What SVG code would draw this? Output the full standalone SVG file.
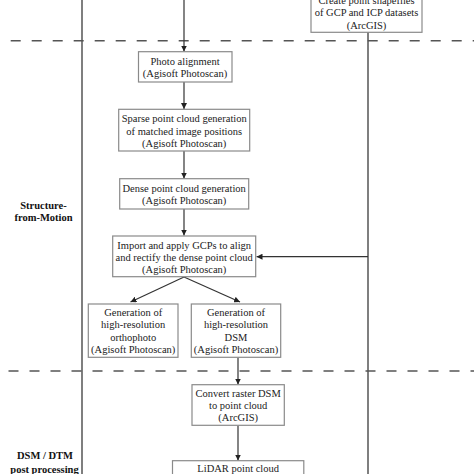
<svg xmlns="http://www.w3.org/2000/svg" width="474" height="474" viewBox="0 0 474 474">
<defs>
<marker id="ah" viewBox="0 0 10 10" refX="10" refY="5" markerWidth="6" markerHeight="6" markerUnits="userSpaceOnUse" orient="auto">
<path d="M0,0 L10,5 L0,10 z" fill="#222"/>
</marker>
<style>
.box{fill:#fff;stroke:#8a8a8a;stroke-width:1.2}
.t{font-family:"Liberation Serif","Times New Roman",serif;font-size:10.5px;fill:#222;text-anchor:middle}
.b{font-family:"Liberation Serif","Times New Roman",serif;font-size:10.5px;font-weight:bold;fill:#111;text-anchor:middle}
.ln{stroke:#555;stroke-width:1.5;fill:none}
.ar{stroke:#333;stroke-width:1.2;fill:none;marker-end:url(#ah)}
.dash{stroke:#555;stroke-width:1.5;stroke-dasharray:10 11;fill:none}
</style>
</defs>
<rect width="474" height="474" fill="#fff"/>
<g id="dividers">
<line class="dash" x1="10.7" y1="40.7" x2="474" y2="40.7"/>
<line class="dash" x1="8.5" y1="371" x2="474" y2="371"/>
</g>
<g id="connectors">
<line class="ln" x1="82" y1="0" x2="82" y2="474"/>
<line class="ln" x1="368" y1="32" x2="368" y2="474"/>
<line class="ar" x1="184" y1="0" x2="184" y2="51.5"/>
<line class="ar" x1="184" y1="82" x2="184" y2="109"/>
<line class="ar" x1="184" y1="151" x2="184" y2="178.5"/>
<line class="ar" x1="184" y1="209" x2="184" y2="235.5"/>
<line class="ar" x1="368" y1="256.7" x2="256.5" y2="256.7"/>
<line class="ar" x1="184" y1="277" x2="130.5" y2="302"/>
<line class="ar" x1="184" y1="277" x2="240" y2="302"/>
<line class="ar" x1="238" y1="357.5" x2="238" y2="384.5"/>
<line class="ar" x1="238" y1="425.5" x2="238" y2="460.5"/>
</g>
<g id="n-shapefiles">
<rect class="box" x="311" y="-10" width="111" height="42.3"/>
<text class="t" x="366.5" y="3.5">Create point shapefiles</text>
<text class="t" x="366.5" y="16">of GCP and ICP datasets</text>
<text class="t" x="366.5" y="28.5">(ArcGIS)</text>
</g>
<g id="n-photo">
<rect class="box" x="138.5" y="51.7" width="93.5" height="30.3"/>
<text class="t" x="185" y="65">Photo alignment</text>
<text class="t" x="185" y="77">(Agisoft Photoscan)</text>
</g>
<g id="n-sparse">
<rect class="box" x="118.7" y="109.3" width="131" height="41.7"/>
<text class="t" x="184.2" y="122">Sparse point cloud generation</text>
<text class="t" x="184.2" y="134.5">of matched image positions</text>
<text class="t" x="184.2" y="147">(Agisoft Photoscan)</text>
</g>
<g id="n-dense">
<rect class="box" x="119.7" y="178.7" width="129" height="30.3"/>
<text class="t" x="184.2" y="192">Dense point cloud generation</text>
<text class="t" x="184.2" y="203.5">(Agisoft Photoscan)</text>
</g>
<g id="n-import">
<rect class="box" x="112.7" y="236" width="143" height="40.7"/>
<text class="t" x="184.2" y="248.5">Import and apply GCPs to align</text>
<text class="t" x="184.2" y="261">and rectify the dense point cloud</text>
<text class="t" x="184.2" y="273.3">(Agisoft Photoscan)</text>
</g>
<g id="n-ortho">
<rect class="box" x="88.3" y="304" width="89.7" height="53.3"/>
<text class="t" x="133.2" y="315.5">Generation of</text>
<text class="t" x="133.2" y="328">high-resolution</text>
<text class="t" x="133.2" y="340.5">orthophoto</text>
<text class="t" x="133.2" y="353">(Agisoft Photoscan)</text>
</g>
<g id="n-dsm">
<rect class="box" x="191.3" y="304" width="89.4" height="53.3"/>
<text class="t" x="236" y="315.5">Generation of</text>
<text class="t" x="236" y="328">high-resolution</text>
<text class="t" x="236" y="340.5">DSM</text>
<text class="t" x="236" y="353">(Agisoft Photoscan)</text>
</g>
<g id="n-convert">
<rect class="box" x="192" y="384.7" width="92.3" height="40.6"/>
<text class="t" x="238.2" y="396.5">Convert raster DSM</text>
<text class="t" x="238.2" y="409">to point cloud</text>
<text class="t" x="238.2" y="421.3">(ArcGIS)</text>
</g>
<g id="n-lidar">
<rect class="box" x="172.5" y="460.7" width="131.3" height="30"/>
<text class="t" x="238.2" y="472">LiDAR point cloud</text>
</g>
<g id="labels">
<text class="b" x="43.5" y="209">Structure-</text>
<text class="b" x="43.5" y="220.5">from-Motion</text>
<text class="b" x="45" y="459">DSM / DTM</text>
<text class="b" x="44.5" y="473">post processing</text>
</g>
</svg>
